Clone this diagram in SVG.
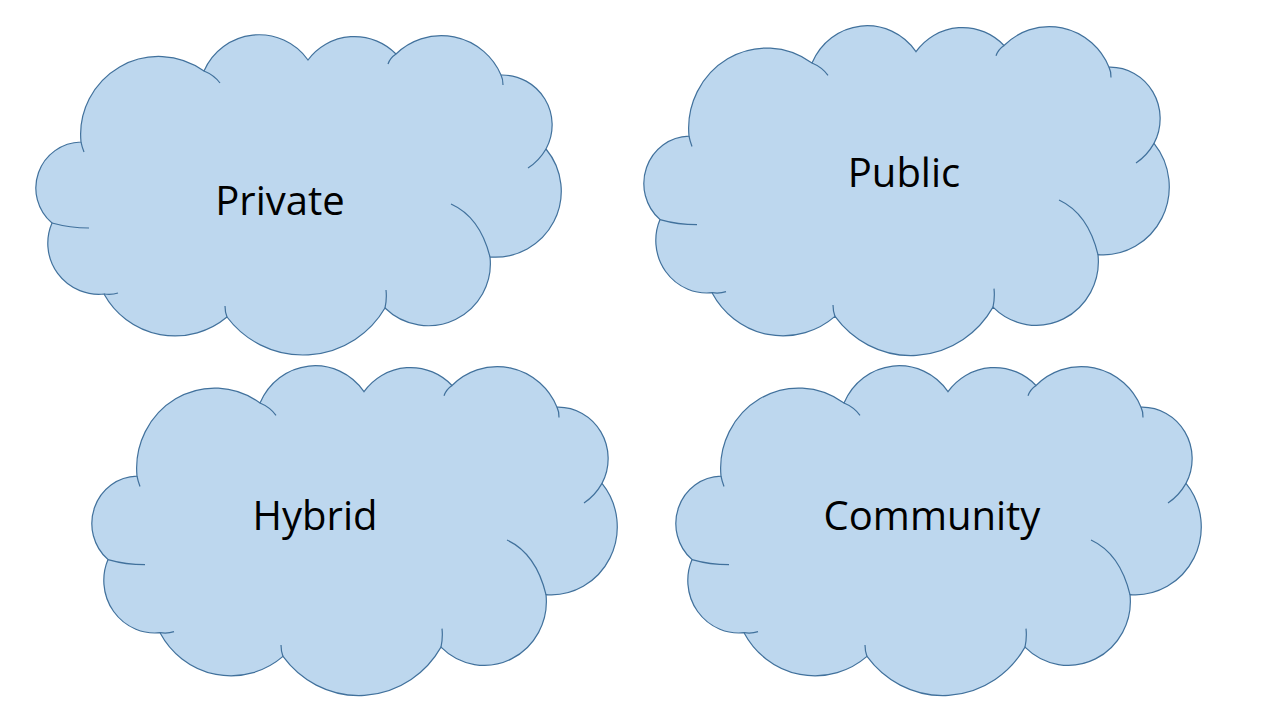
<svg xmlns="http://www.w3.org/2000/svg" width="1280" height="720" viewBox="0 0 1280 720">
<style>
.c{fill:#BDD7EE;stroke:#41719C;stroke-width:1.2}
.h{fill:none;stroke:#41719C;stroke-width:1.2}
.t{font-family:"Open Sans","Liberation Sans",Arial,sans-serif;font-size:40px;fill:#000;text-anchor:middle}
</style>
<defs>
<g id="cloud">
<path class="c" d="M49,105 A78,78 0 0 1 172,34 A60,60 0 0 1 276,23 A58,58 0 0 1 364,17 A65,65 0 0 1 469,38 A50,50 0 0 1 514,112 A66,66 0 0 1 458,220 A62,62 0 0 1 353,271 A95,95 0 0 1 195,280 A81,81 0 0 1 72,257 A51,51 0 0 1 20,186 A46,46 0 0 1 49,105 Z"/>
<path class="h" d="M172,34 Q182,38 188,46 M364,17 Q358,21 356,27 M469,38 Q471,42 471,48 M514,112 Q507,124 496,131 M458,220 Q448,180 419,167 M353,271 Q355,262 354,253 M195,280 Q193,275 193,269 M72,257 Q80,258 86,256 M20,186 Q38,191 57,191 M49,105 Q50,110 52,115"/>
</g>
</defs>
<g id="private"><use href="#cloud" transform="translate(32,37)"/><text class="t" x="280" y="215">Private</text></g>
<g id="public"><use href="#cloud" transform="translate(640,28) scale(1,1.03)"/><text class="t" x="904" y="187">Public</text></g>
<g id="hybrid"><use href="#cloud" transform="translate(88,368) scale(1,1.03)"/><text class="t" x="315" y="530">Hybrid</text></g>
<g id="community"><use href="#cloud" transform="translate(672,368) scale(1,1.03)"/><text class="t" x="932" y="530">Community</text></g>
<g id="connectors"/>
</svg>
